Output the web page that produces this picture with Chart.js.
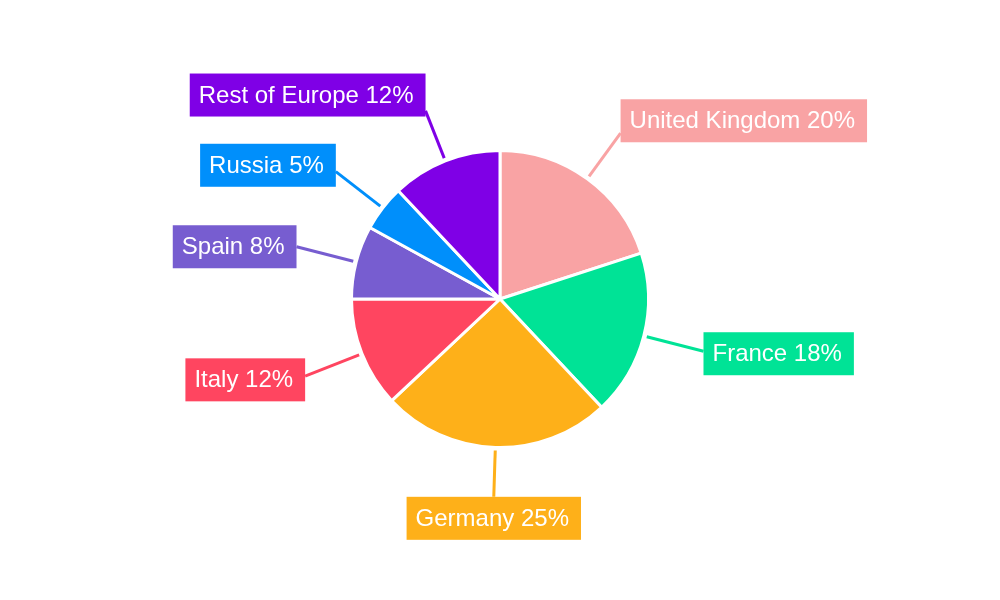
<!DOCTYPE html>
<html>
<head>
<meta charset="utf-8">
<script src="https://cdn.jsdelivr.net/npm/chart.js@4/dist/chart.umd.min.js"></script>
<style>
  html, body { margin: 0; padding: 0; background: #fff; }
  #wrap { width: 1000px; height: 600px; }
</style>
</head>
<body>
<div id="wrap"><canvas id="pie"></canvas></div>
<script>
var countries = ['United Kingdom', 'France', 'Germany', 'Italy', 'Spain', 'Russia', 'Rest of Europe'];
var shares = [20, 18, 25, 12, 8, 5, 12];
var sliceColors = ['#F9A3A4', '#00E396', '#FEB019', '#FF4560', '#775DD0', '#008FFB', '#7F00E6'];

// callout boxes with a leader line, drawn after the pie
var calloutPlugin = {
  id: 'callouts',
  afterDraw: function(chart) {
    var ctx = chart.ctx;
    var arcs = chart.getDatasetMeta(0).data;
    ctx.save();
    ctx.font = '24px "Liberation Sans", Arial, sans-serif';
    ctx.textBaseline = 'middle';
    arcs.forEach(function(arc, i) {
      var p = arc.getProps(['x', 'y', 'startAngle', 'endAngle', 'outerRadius'], true);
      var mid = (p.startAngle + p.endAngle) / 2;
      var cx = Math.cos(mid), sy = Math.sin(mid);
      var side = Math.abs(cx) >= 0.3;
      var len = 49 + 13 * Math.abs(cx);
      var x0 = p.x + (p.outerRadius + 3) * cx, y0 = p.y + (p.outerRadius + 3) * sy;
      var x1 = p.x + (p.outerRadius + len) * cx, y1 = p.y + (p.outerRadius + len) * sy;
      var text = countries[i] + ' ' + shares[i] + '%';
      var bw = ctx.measureText(text).width + 21, bh = 43;
      var bx, by;
      if (!side) {
        bx = x1 - bw / 2;
        by = sy > 0 ? y1 : y1 - bh;
      } else if (cx > 0) {
        bx = x1; by = y1 - bh / 2;
      } else {
        bx = x1 - bw; by = y1 - bh / 2;
      }
      by -= Math.max(0, -sy - 0.4) * 30;
      if (side) by += Math.max(0, sy) * 10;
      ctx.strokeStyle = sliceColors[i];
      ctx.lineWidth = 3;
      ctx.beginPath();
      ctx.moveTo(x0, y0);
      ctx.lineTo(x1, y1);
      ctx.stroke();
      ctx.fillStyle = sliceColors[i];
      ctx.fillRect(bx, by, bw, bh);
      ctx.fillStyle = '#fff';
      ctx.fillText(text, bx + 9, by + bh / 2 + 1);
    });
    ctx.restore();
  }
};

new Chart(document.getElementById('pie'), {
  type: 'pie',
  data: {
    labels: countries,
    datasets: [{
      data: shares,
      backgroundColor: sliceColors,
      borderColor: '#fff',
      borderWidth: 3
    }]
  },
  options: {
    responsive: true,
    maintainAspectRatio: false,
    animation: false,
    layout: { padding: { top: 149, bottom: 151, left: 0, right: 0 } },
    plugins: {
      legend: { display: false },
      tooltip: { enabled: false }
    }
  },
  plugins: [calloutPlugin]
});
</script>
</body>
</html>
